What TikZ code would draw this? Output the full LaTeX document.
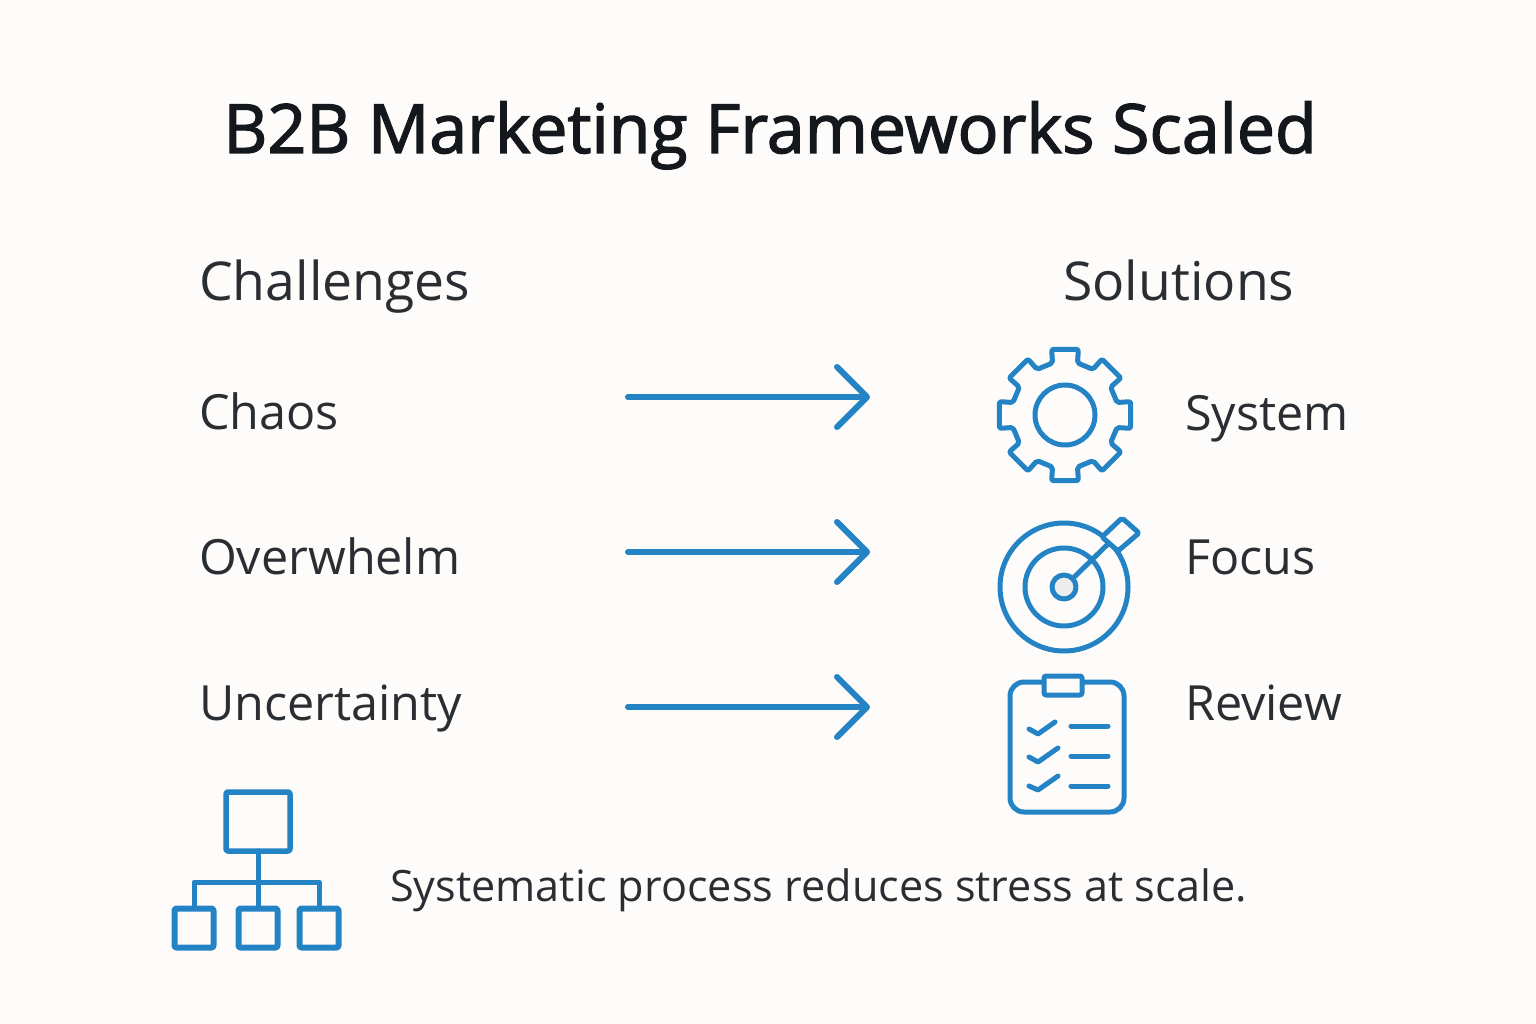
\documentclass[tikz,border=0pt]{standalone}
\usepackage{fontspec}
\setmainfont{Open Sans}
\newfontfamily\titlefont[FakeBold=2]{Open Sans}
\usetikzlibrary{arrows.meta}
\definecolor{iconblue}{HTML}{2383C4}
\definecolor{inkdark}{HTML}{14181C}
\definecolor{inksoft}{HTML}{2A2E33}
\definecolor{paper}{HTML}{FDFCFB}
\tikzset{
  titletext/.style={anchor=base, inner sep=0pt, text=inkdark, font=\titlefont\fontsize{68}{70}\selectfont},
  labeltext/.style={anchor=base west, inner sep=0pt, text=inksoft, font=\fontsize{48.5}{52}\selectfont},
  headtext/.style={labeltext, font=\fontsize{53.5}{56}\selectfont},
  iconline/.style={draw=iconblue, line width=5pt, line join=round, line cap=round},
  flowarrow/.style={draw=iconblue, line width=6pt, line cap=round,
    -{Straight Barb[length=30pt, width=60pt, round]}},
}
\begin{document}
\begin{tikzpicture}[x=1pt, y=-1pt]
    % Page
    \fill[paper] (0,0) rectangle (1536,1024);
    \useasboundingbox (0,0) rectangle (1536,1024);

    % Title
    \node[titletext] (title) at (770,153) {B2B Marketing Frameworks Scaled};

    % Columns
    \node[headtext] (challenges) at (199,300) {Challenges};
    \node[headtext] (solutions) at (1063,300) {Solutions};

    % Rows
    \foreach \name/\x/\y/\word in {chaos/199/429/Chaos, overwhelm/199/574/Overwhelm,
      uncertainty/199/720/Uncertainty, system/1185/430/System, focus/1185/574/Focus,
      review/1185/720/Review}
    \node[labeltext] (\name) at (\x,\y) {\word};

    % Arrows
    \foreach \name/\y in {chaos/397, overwhelm/552, uncertainty/707} {
      \coordinate (\name out) at (628,\y);
      \coordinate (\name in) at (870,\y);
      \draw[flowarrow] (\name out) -- (\name in);
    }

    % Gear
    \node[iconline, circle, inner sep=0pt, minimum size=60pt] (gearhub) at (1065,415) {};
    \begin{scope}[shift={(1065,415)}]
      \draw[iconline, rounded corners=2pt] (-13.5:53.5)
        \foreach \a in {0,45,...,315} {
          -- (\a-13.5:53.5) -- (\a-11.5:67) -- (\a+11.5:67) -- (\a+13.5:53.5)
        } -- cycle;
    \end{scope}

    % Target
    \node[iconline, circle, inner sep=0pt, minimum size=128pt] (targetouter) at (1064,587) {};
    \node[iconline, circle, inner sep=0pt, minimum size=78pt] (targetmiddle) at (1064,587) {};
    \node[iconline, circle, inner sep=0pt, minimum size=24pt, fill=black!7] (targetinner) at (1064,587) {};
    \draw[iconline, rounded corners=2pt, fill=paper] (1122,518) -- (1139,533) -- (1118,551) -- (1102,537) -- cycle;
    \draw[iconline] (targetinner) -- (1108,544);

    % Clipboard
    \draw[iconline, rounded corners=14pt] (1010,682) rectangle (1124,812);
    \draw[iconline, rounded corners=2pt, fill=paper] (1044,676) rectangle (1082,695);
    \foreach \ya/\yb/\yc/\xc/\yl in {729/734/722/1055/726, 757/762/748/1058/756, 786/790/776/1058/786} {
      \draw[iconline] (1029,\ya) -- (1038,\yb) -- (\xc,\yc);
      \draw[iconline] (1071,\yl) -- (1108,\yl);
    }

    % Hierarchy
    \draw[iconline, line width=5.5pt, rounded corners=2pt] (226,792) rectangle (290,851);
    \foreach \name/\x in {left/194, middle/258, right/319} {
      \node[iconline, line width=6pt, rounded corners=2pt, inner sep=0pt, minimum size=39pt] (box\name) at (\x,928) {};
    }
    \draw[iconline] (258,851) -- (258,882);
    \draw[iconline] (boxleft.north) -- (194,882) -- (319,882) -- (boxright.north);
    \draw[iconline] (258,882) -- (boxmiddle.north);

    % Closing line
    \node[labeltext, font=\fontsize{43.2}{46}\selectfont] (closing) at (390,901) {Systematic process reduces stress at scale.};
\end{tikzpicture}
\end{document}
